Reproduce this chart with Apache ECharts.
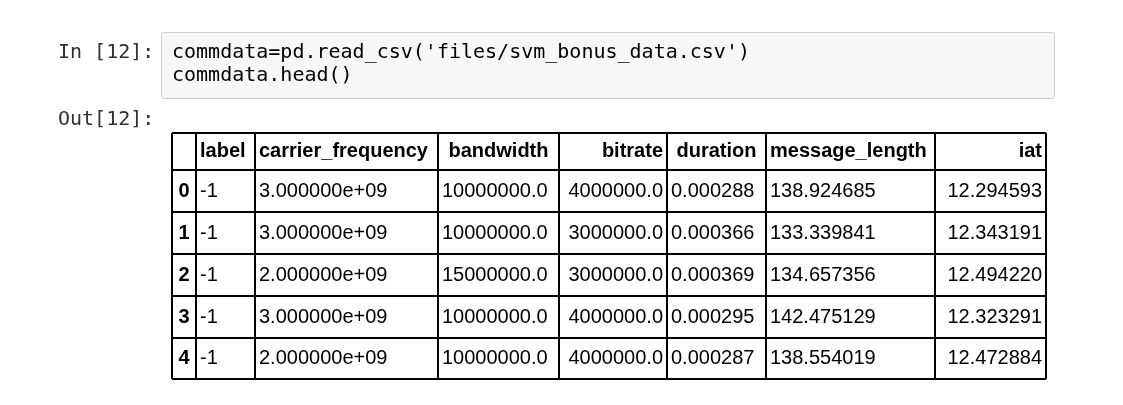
<!DOCTYPE html>
<html>
<head>
<meta charset="utf-8">
<script src="https://cdn.jsdelivr.net/npm/echarts@6/dist/echarts.min.js"></script>
<style>html,body{margin:0;background:#fff}#main{width:1123px;height:405px}</style>
</head>
<body>
<div id="main"></div>
<script>
var codeLines = ["commdata=pd.read_csv('files/svm_bonus_data.csv')", "commdata.head()"];
var columns = ['', 'label', 'carrier_frequency', 'bandwidth', 'bitrate', 'duration', 'message_length', 'iat'];
var rowIndex = ['0', '1', '2', '3', '4'];
var labels = ['-1', '-1', '-1', '-1', '-1'];
var carrierFrequency = ['3.000000e+09', '3.000000e+09', '2.000000e+09', '3.000000e+09', '2.000000e+09'];
var bandwidth = ['10000000.0', '10000000.0', '15000000.0', '10000000.0', '10000000.0'];
var bitrate = ['4000000.0', '3000000.0', '3000000.0', '4000000.0', '4000000.0'];
var duration = ['0.000288', '0.000366', '0.000369', '0.000295', '0.000287'];
var messageLength = ['138.924685', '133.339841', '134.657356', '142.475129', '138.554019'];
var iat = ['12.294593', '12.343191', '12.494220', '12.323291', '12.472884'];

var colX = [172, 196, 255, 438, 559, 667, 766, 935, 1046];
var rowY = [133, 170, 212, 254, 296, 338, 379];
var align = ['center', 'left', 'left', 'left', 'right', 'left', 'left', 'right'];
var headAlign = ['center', 'left', 'left', 'center', 'right', 'center', 'left', 'right'];

var chart = echarts.init(document.getElementById('main'));
var g = [];
var mono = '"DejaVu Sans Mono", monospace';
var sans = '"Liberation Sans", Arial, sans-serif';

g.push({type: 'text', left: 58, top: 43, style: {text: 'In [12]:', font: '20px ' + mono, fill: '#303030'}});
g.push({type: 'rect', shape: {x: 161.5, y: 32.5, width: 893, height: 66, r: 2},
        style: {fill: '#f7f7f7', stroke: '#cfcfcf', lineWidth: 1}});
codeLines.forEach(function (t, i) {
    g.push({type: 'text', left: 172, top: 43 + i * 23, style: {text: t, font: '20px ' + mono, fill: '#000'}});
});
g.push({type: 'text', left: 58, top: 110, style: {text: 'Out[12]:', font: '20px ' + mono, fill: '#303030'}});

var rows = rowIndex.map(function (r, i) {
    return [r, labels[i], carrierFrequency[i], bandwidth[i], bitrate[i], duration[i], messageLength[i], iat[i]];
});
var all = [columns].concat(rows);

rowY.forEach(function (y) {
    g.push({type: 'line', shape: {x1: colX[0], y1: y, x2: colX[colX.length - 1], y2: y},
            style: {stroke: '#000', lineWidth: 2}});
});
colX.forEach(function (x) {
    g.push({type: 'line', shape: {x1: x, y1: rowY[0], x2: x, y2: rowY[rowY.length - 1]},
            style: {stroke: '#000', lineWidth: 2}});
});

all.forEach(function (cells, r) {
    var yc = (rowY[r] + rowY[r + 1]) / 2;
    cells.forEach(function (t, c) {
        var a = r === 0 ? headAlign[c] : align[c];
        var x = a === 'left' ? colX[c] + 4 : a === 'right' ? colX[c + 1] - 4 : (colX[c] + colX[c + 1]) / 2;
        var bold = r === 0 || c === 0;
        g.push({type: 'text', x: x, y: yc,
                style: {text: t, textAlign: a, textVerticalAlign: 'middle',
                        font: (bold ? 'bold ' : '') + '20px ' + sans, fill: '#000'}});
    });
});

chart.setOption({graphic: {elements: g}});
window.onresize = chart.resize;
</script>
</body>
</html>
